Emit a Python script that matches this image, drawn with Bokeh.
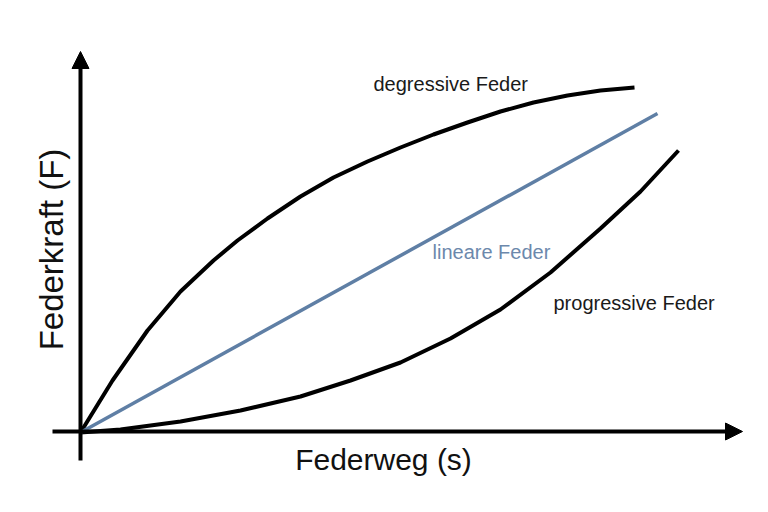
import math
from bokeh.plotting import figure
from bokeh.models import Range1d, Arrow, NormalHead, ColumnDataSource
from bokeh.core.properties import value
from bokeh.embed import file_html
from bokeh.resources import INLINE

# Federweg (s) / Federkraft (F) in arbitrary units
deg_s = [0.00, 0.16, 0.32, 0.67, 1.00, 1.33, 1.57, 1.87, 2.20, 2.53, 2.87, 3.20, 3.53, 3.87, 4.20, 4.53, 4.87, 5.20, 5.54]
deg_F = [0.00, 0.26, 0.52, 1.02, 1.41, 1.72, 1.92, 2.14, 2.36, 2.55, 2.71, 2.85, 2.98, 3.10, 3.21, 3.30, 3.37, 3.42, 3.45]

lin_s = [0.00, 5.77]
lin_F = [0.00, 3.19]

prog_s = [0.00, 0.40, 1.00, 1.60, 2.20, 2.70, 3.20, 3.70, 4.20, 4.70, 5.20, 5.60, 5.98]
prog_F = [0.00, 0.03, 0.11, 0.22, 0.36, 0.52, 0.70, 0.94, 1.23, 1.60, 2.04, 2.41, 2.82]

curve_labels = ["degressive Feder", "lineare Feder", "progressive Feder"]
label_s = [2.93, 3.52, 4.73]
label_F = [3.49, 1.81, 1.30]

x_title = "Federweg (s)"
y_title = "Federkraft (F)"

p = figure(width=752, height=496, output_backend="svg", toolbar_location=None,
           x_axis_type=None, y_axis_type=None, min_border=0,
           x_range=Range1d(-0.80, 6.72), y_range=Range1d(-0.64, 4.32))
p.outline_line_color = None
p.grid.visible = False
p.background_fill_color = "white"
p.border_fill_color = "white"

# axes with arrow heads
p.add_layout(Arrow(end=NormalHead(size=17, fill_color="black", line_color="black", line_width=1),
                   x_start=-0.28, y_start=0.01, x_end=6.62, y_end=0.01,
                   line_color="black", line_width=4))
p.add_layout(Arrow(end=NormalHead(size=17, fill_color="black", line_color="black", line_width=1),
                   x_start=0.0, y_start=-0.28, x_end=0.0, y_end=3.81,
                   line_color="black", line_width=4))

p.line(deg_s, deg_F, line_color="black", line_width=4, line_join="round")
p.line(prog_s, prog_F, line_color="black", line_width=4, line_join="round")
p.line(lin_s, lin_F, line_color="#5F7FA5", line_width=3.5)

src = ColumnDataSource(dict(x=label_s, y=label_F, t=curve_labels,
                            c=["#1a1a1a", "#6C88AC", "#1a1a1a"]))
p.text(x="x", y="y", text="t", source=src, text_color="c",
       text_font=value("Liberation Sans"), text_font_size="20px",
       text_align="left", text_baseline="alphabetic")

p.text(x=[3.03], y=[-0.27], text=[x_title], text_color="#111111",
       text_font=value("Liberation Sans"), text_font_size="30px",
       text_align="center", text_baseline="alphabetic")
p.text(x=[-0.29], y=[1.83], text=[y_title], text_color="#111111", angle=math.pi / 2,
       text_font=value("Liberation Sans"), text_font_size="33px",
       text_align="center", text_baseline="alphabetic")

open("out.html", "w").write(file_html(p, INLINE))
